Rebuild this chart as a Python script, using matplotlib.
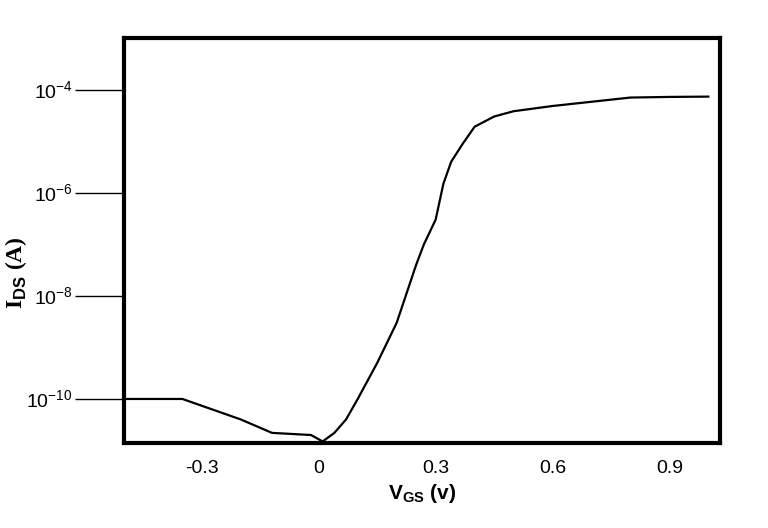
import matplotlib.pyplot as plt
import numpy as np

plt.rcParams["mathtext.fontset"] = "custom"
plt.rcParams["mathtext.rm"] = "Liberation Sans"
plt.rcParams["mathtext.bf"] = "Liberation Sans:bold"

vgs = [-0.5, -0.35, -0.2, -0.12, -0.02, 0.01, 0.04, 0.07, 0.1, 0.15, 0.2, 0.25, 0.27, 0.3, 0.32, 0.34, 0.37, 0.4, 0.45, 0.5, 0.6, 0.7, 0.8, 0.9, 1.0]
ids = [1e-10, 1e-10, 4e-11, 2.2e-11, 2e-11, 1.5e-11, 2.2e-11, 4e-11, 1e-10, 5e-10, 3e-9, 4e-8, 1e-7, 3e-7, 1.5e-6, 4e-6, 9e-6, 1.9e-5, 3e-5, 3.8e-5, 4.8e-5, 5.8e-5, 7e-5, 7.2e-5, 7.3e-5]
xticks = [-0.3, 0, 0.3, 0.6, 0.9]
xlabels = ["-0.3", "0", "0.3", "0.6", "0.9"]
yticks = [1e-10, 1e-8, 1e-6, 1e-4]
ylabels = ["10$^{-10}$", "10$^{-8}$", "10$^{-6}$", "10$^{-4}$"]

fig = plt.figure(figsize=(7.68, 5.28), dpi=100)
ax = fig.add_axes([124/768, 85/528, 596/768, 405/528])
ax.plot(vgs, ids, color="black", lw=1.6)
ax.set_yscale("log")
ax.set_xlim(-0.5, 1.03)
ax.set_ylim(1.4e-11, 1e-3)
ax.set_xticks(xticks)
ax.set_xticklabels(xlabels, fontsize=14, family="Liberation Sans")
ax.set_yticks(yticks)
ax.set_yticklabels(ylabels, fontsize=14, family="Liberation Sans")
ax.minorticks_off()
ax.tick_params(axis="y", direction="out", length=35, width=1, pad=2)
ax.tick_params(axis="x", length=0, pad=12)
for s in ax.spines.values():
    s.set_linewidth(3)
ax.set_xlabel("V$_{\\mathbf{GS}}$ (v)", fontsize=15, fontweight="bold", family="Liberation Sans", labelpad=4)
ax.set_ylabel("I$_{\\mathbf{DS}}$ (A)", fontsize=17, fontweight="bold", family="Liberation Serif")
ax.yaxis.set_label_coords(-0.16, 0.42)
fig.savefig("out.png", dpi=100)
